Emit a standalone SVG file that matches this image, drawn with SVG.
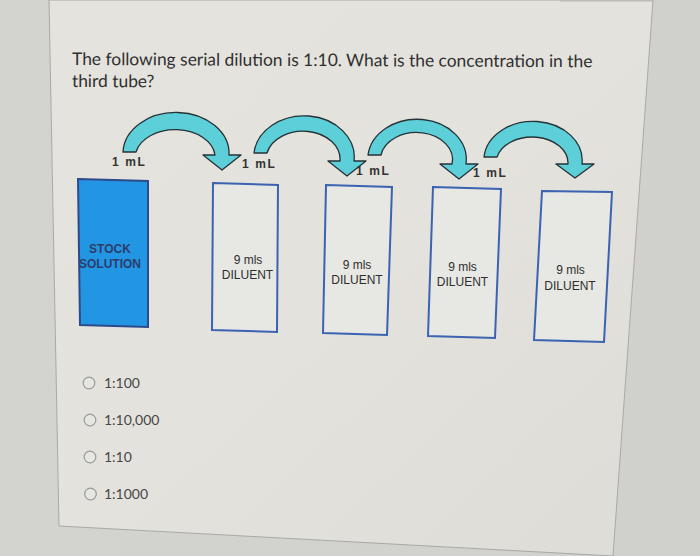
<svg xmlns="http://www.w3.org/2000/svg" width="700" height="556" viewBox="0 0 700 556">
  <defs>
    <linearGradient id="bg" x1="0" y1="0" x2="1" y2="0">
      <stop offset="0" stop-color="#d3d3cf"/>
      <stop offset="1" stop-color="#d0d0cc"/>
    </linearGradient>
    <linearGradient id="panel" x1="0" y1="0" x2="1" y2="1">
      <stop offset="0" stop-color="#e4e3de"/>
      <stop offset="0.5" stop-color="#e3e2dd"/>
      <stop offset="1" stop-color="#dddcd7"/>
    </linearGradient>
    <style>
      .title { font-family: Lato, "Liberation Sans", sans-serif; font-size: 17.4px; fill: #303030; }
      .opt { font-family: Lato, "Liberation Sans", sans-serif; font-size: 14px; fill: #474747; }
      .radio { fill: #e6e6e2; stroke: #9a9a98; stroke-width: 1.2; }
      .tube { fill: #e7e7e3; stroke: #3c63b2; stroke-width: 2; }
      .stock { fill: #2396e3; stroke: #2c4a8c; stroke-width: 2; }
      .stocktext { font-family: "Liberation Sans", Arial, sans-serif; font-size: 12px; font-weight: bold; fill: #2b3c6c; text-anchor: middle; }
      .dil { font-family: "Liberation Sans", Arial, sans-serif; font-size: 12px; fill: #2e2e2e; text-anchor: middle; }
      .ml { font-family: "Liberation Sans", Arial, sans-serif; font-size: 12px; font-weight: bold; fill: #333333; letter-spacing: 1.6px; }
      .arrow { fill: #5ccfd8; stroke: #263238; stroke-width: 1.3; stroke-linejoin: round; }
    </style>
  </defs>

  <rect x="0" y="0" width="700" height="556" fill="url(#bg)"/>
  <polygon points="49,0 653,0 613,556 59,526" fill="url(#panel)" stroke="#a9a9a5" stroke-width="1"/>
  <line x1="560" y1="1" x2="653" y2="1" stroke="#b5b5b1" stroke-width="1"/>

  <g id="title" transform="rotate(0.25 72 66)">
    <text class="title" x="72" y="65">The following serial dilution is 1:10.  What is the concentration in the</text>
    <text class="title" x="72" y="87">third tube?</text>
  </g>

  <g id="connectors">
    <path class="arrow" d="M 123 152 A 53 41 0 0 1 229 155 L 241 155 L 222 170 L 203 155 L 215 155 A 40 28 0 0 0 136 152 Z"/>
    <path class="arrow" d="M 254 153 A 50 41 0 0 1 354 161 L 366 161 L 347 176 L 328 161 L 340 161 A 37 28 0 0 0 267 153 Z"/>
    <path class="arrow" d="M 368 155 A 49 40 0 0 1 466 164 L 478 164 L 459 179 L 440 164 L 452 164 A 36 27 0 0 0 381 155 Z"/>
    <path class="arrow" d="M 484 157 A 49 39 0 0 1 582 164 L 594 164 L 575 178 L 556 164 L 568 164 A 36 26 0 0 0 497 157 Z"/>
  </g>

  <g id="labels">
    <text class="ml" x="112" y="166">1 mL</text>
    <text class="ml" x="242" y="168">1 mL</text>
    <text class="ml" x="356" y="175">1 mL</text>
    <text class="ml" x="473" y="177">1 mL</text>
  </g>

  <g id="stock-tube">
    <polygon class="stock" points="78,179 148,181 148,327 80,325"/>
    <text class="stocktext" x="110" y="253">STOCK</text>
    <text class="stocktext" x="110" y="268">SOLUTION</text>
  </g>

  <g id="tube-2">
    <polygon class="tube" points="213,183 278,185 277,332 212,330"/>
    <text class="dil" x="248" y="264">9 mls</text>
    <text class="dil" x="247.5" y="279">DILUENT</text>
  </g>

  <g id="tube-3">
    <polygon class="tube" points="326,185 392,187 387,335 323,333"/>
    <text class="dil" x="357" y="269">9 mls</text>
    <text class="dil" x="357" y="284">DILUENT</text>
  </g>

  <g id="tube-4">
    <polygon class="tube" points="433,187 501,189 495,338 428,336"/>
    <text class="dil" x="462.5" y="271">9 mls</text>
    <text class="dil" x="462.5" y="286">DILUENT</text>
  </g>

  <g id="tube-5">
    <polygon class="tube" points="542,191 612,192 604,342 534,340"/>
    <text class="dil" x="570.5" y="274">9 mls</text>
    <text class="dil" x="570" y="290">DILUENT</text>
  </g>

  <g id="options">
    <circle class="radio" cx="89" cy="383" r="5.8"/>
    <text class="opt" x="104" y="388">1:100</text>
    <circle class="radio" cx="90" cy="420" r="5.8"/>
    <text class="opt" x="104" y="425">1:10,000</text>
    <circle class="radio" cx="90" cy="457" r="5.8"/>
    <text class="opt" x="104" y="462">1:10</text>
    <circle class="radio" cx="90.5" cy="494" r="5.8"/>
    <text class="opt" x="104" y="499">1:1000</text>
  </g>
</svg>
